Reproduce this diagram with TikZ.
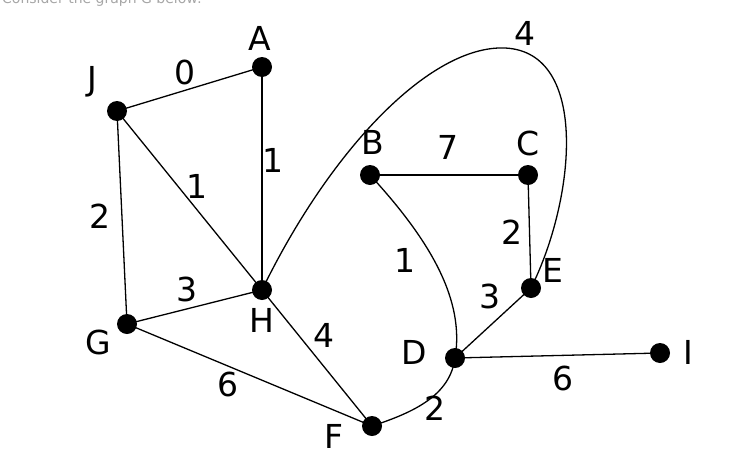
\documentclass[tikz,border=0pt]{standalone}
\usepackage{fontspec}
\setmainfont{DejaVu Sans}
\begin{document}
\begin{tikzpicture}[x=1pt,y=-1pt,
  dot/.style={fill=black,circle,inner sep=0pt,minimum size=20pt},
  lab/.style={font=\fontsize{33}{33}\selectfont,inner sep=0pt},
  edge/.style={line width=1.3pt}]
\useasboundingbox (0,0) rectangle (744,458);
\begin{scope}
\clip (0,0) rectangle (744,458);
\node[anchor=base west,text=gray!70,font=\fontsize{14}{14}\selectfont,inner sep=0pt] (cap) at (2,3) {Consider the graph G below:};
\end{scope}
\node[dot] (J) at (117,111) {};
\node[dot] (A) at (262,67) {};
\node[dot] (B) at (370,175) {};
\node[dot] (C) at (528,175) {};
\node[dot] (H) at (262,290) {};
\node[dot] (E) at (531,288) {};
\node[dot] (G) at (127,324) {};
\node[dot] (D) at (455,358) {};
\node[dot] (I) at (660,353) {};
\node[dot] (F) at (372,426) {};
\draw[edge] (J.center)--(A.center);
\draw[edge] (A.center)--(H.center);
\draw[edge] (J.center)--(H.center);
\draw[edge] (J.center)--(G.center);
\draw[edge] (G.center)--(H.center);
\draw[edge] (G.center)--(F.center);
\draw[edge] (H.center)--(F.center);
\draw[edge] (B.center)--(C.center);
\draw[edge] (C.center)--(E.center);
\draw[edge] (E.center)--(D.center);
\draw[edge] (D.center)--(I.center);
\draw[edge] (B.center) .. controls (430,240) and (465,300) .. (D.center);
\draw[edge] (F.center) .. controls (415,412) and (450,395) .. (D.center);
\draw[edge] (H.center) .. controls (330,150) and (430,45) .. (505,48) .. controls (590,52) and (575,200) .. (E.center);
\node[lab] (lJ) at (92,82) {J};
\node[lab] (lA) at (260,38) {A};
\node[lab] (lB) at (373,142) {B};
\node[lab] (lC) at (528,143) {C};
\node[lab] (lH) at (262,320) {H};
\node[lab] (lE) at (553,270) {E};
\node[lab] (lG) at (98,342) {G};
\node[lab] (lD) at (414,352) {D};
\node[lab] (lI) at (688,352) {I};
\node[lab] (lF) at (334,436) {F};
\node[lab] (w1) at (185,72) {0};
\node[lab] (w2) at (273,160) {1};
\node[lab] (w3) at (197,186) {1};
\node[lab] (w4) at (100,216) {2};
\node[lab] (w5) at (187,289) {3};
\node[lab] (w6) at (228,384) {6};
\node[lab] (w7) at (324,335) {4};
\node[lab] (w8) at (448,147) {7};
\node[lab] (w9) at (512,232) {2};
\node[lab] (w10) at (405,260) {1};
\node[lab] (w11) at (490,296) {3};
\node[lab] (w12) at (563,378) {6};
\node[lab] (w13) at (435,408) {2};
\node[lab] (w14) at (525,33) {4};
\end{tikzpicture}
\end{document}
